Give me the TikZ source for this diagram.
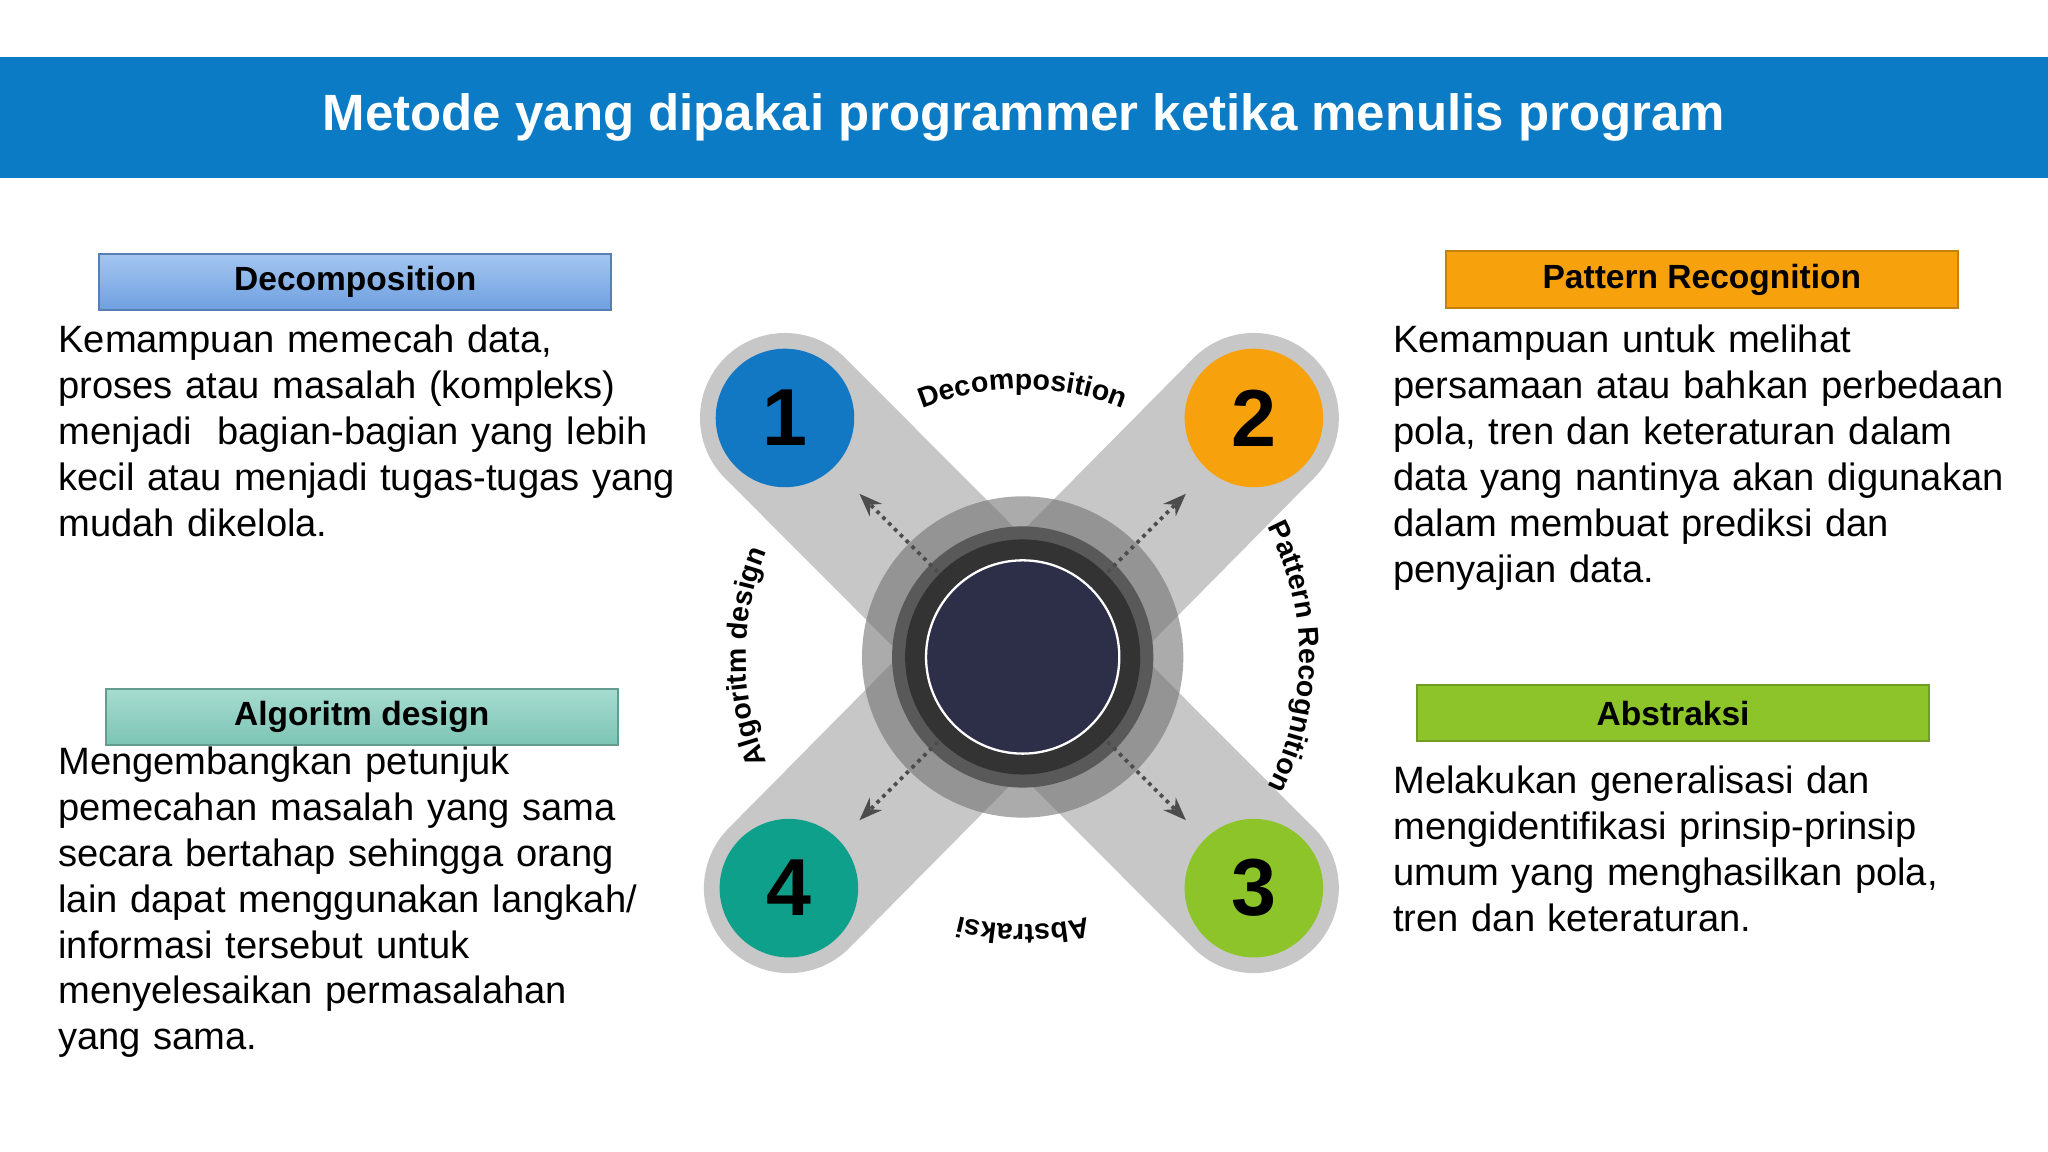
\documentclass[tikz,border=0pt]{standalone}
\usepackage{fontspec}
\setmainfont{Liberation Sans}
\usetikzlibrary{arrows.meta,decorations.text,calc}
\definecolor{hdr}{HTML}{0A7BC4}
\definecolor{c1}{HTML}{1378C4}
\definecolor{c2}{HTML}{F7A10C}
\definecolor{c3}{HTML}{8CC42A}
\definecolor{c4}{HTML}{0FA08C}
\definecolor{navy}{HTML}{2D2E48}
\definecolor{lb1}{HTML}{A4C6F0}
\definecolor{lb2}{HTML}{6E9FE0}
\definecolor{lt1}{HTML}{A6DCD0}
\definecolor{lt2}{HTML}{7CC4B4}
\newcommand{\jl}[1]{\makebox[\linewidth][s]{#1}\\}
\tikzset{
 body/.style={anchor=north west,align=left,inner sep=0pt,font=\fontsize{8.3pt}{10pt}\selectfont},
 lbl/.style={minimum width=3.92cm,minimum height=0.43cm,inner sep=0pt,font=\bfseries\fontsize{7.3pt}{8pt}\selectfont,draw=#1,line width=0.4pt},
 num/.style={circle,minimum size=1.06cm,inner sep=0pt,font=\bfseries\fontsize{17.6pt}{18pt}\selectfont},
 band/.style={line width=37pt,line cap=round,color=black!22},
 darr/.style={densely dotted,thick,black!70,-{Stealth[length=5pt]}},
 arctext/.style={decorate,decoration={text along path,text align=center,text={|\bfseries\fontsize{6.2pt}{7pt}\selectfont|#1}}}
}
\begin{document}
\begin{tikzpicture}[x=0.01cm,y=0.01cm]
\useasboundingbox (0,0) rectangle (1568,-882);
\fill[white] (0,0) rectangle (1568,-882);
\fill[hdr] (0,-44) rectangle (1568,-136);
\node[text=white,font=\bfseries\fontsize{11.1pt}{13pt}\selectfont] (title) at (784,-90) {Metode yang dipakai programmer ketika menulis program};
% labels
\node[lbl=lb2!80!black,top color=lb1,bottom color=lb2] (ld) at (272,-216) {Decomposition};
\node[lbl=c2!80!black,fill=c2] (lp) at (1303,-214) {Pattern Recognition};
\node[lbl=lt2!80!black,top color=lt1,bottom color=lt2] (la) at (277,-549) {Algoritm design};
\node[lbl=c3!80!black,fill=c3] (lb) at (1281,-546) {Abstraksi};
% texts
\node[body,text width=4.7cm] (td) at (44,-248) {\jl{Kemampuan memecah data,}\jl{proses atau masalah (kompleks)}\jl{menjadi \ bagian-bagian yang lebih}\jl{kecil atau menjadi tugas-tugas yang}mudah dikelola.};
\node[body,text width=4.56cm] (ta) at (44,-571) {\jl{Mengembangkan petunjuk}\jl{pemecahan masalah yang sama}\jl{secara bertahap sehingga orang}\jl{lain dapat menggunakan langkah/}\jl{informasi tersebut untuk}\jl{menyelesaikan permasalahan}yang sama.};
\node[body,text width=4.65cm] (tp) at (1066,-248) {\jl{Kemampuan untuk melihat}\jl{persamaan atau bahkan perbedaan}\jl{pola, tren dan keteraturan dalam}\jl{data yang nantinya akan digunakan}\jl{dalam membuat prediksi dan}penyajian data.};
\node[body,text width=4.54cm] (tb) at (1066,-586) {\jl{Melakukan generalisasi dan}\jl{mengidentifikasi prinsip-prinsip}\jl{umum yang menghasilkan pola,}tren dan keteraturan.};
% bands
\coordinate (p1) at (601,-320);
\coordinate (p2) at (960,-320);
\coordinate (p3) at (960,-680);
\coordinate (p4) at (604,-680);
\coordinate (c) at (783,-503);
\draw[band] (p1) -- (p3);
\draw[band] (p2) -- (p4);
% center
\fill[black!55,opacity=0.6] (c) circle[radius=123];
\fill[black!65] (c) circle[radius=100];
\fill[black!80] (c) circle[radius=90];
\fill[navy] (c) circle[radius=75];
\draw[white,line width=0.5pt] (c) circle[radius=74];
% arrows
\coordinate (a1s) at (718,-438); \coordinate (a1e) at (658,-378);
\coordinate (a2s) at (848,-438); \coordinate (a2e) at (908,-378);
\coordinate (a3s) at (848,-568); \coordinate (a3e) at (908,-628);
\coordinate (a4s) at (718,-568); \coordinate (a4e) at (658,-628);
\draw[darr] (a1s) -- (a1e);
\draw[darr] (a2s) -- (a2e);
\draw[darr] (a3s) -- (a3e);
\draw[darr] (a4s) -- (a4e);
% number circles
\node[num,fill=c1] (n1) at (p1) {1};
\node[num,fill=c2] (n2) at (p2) {2};
\node[num,fill=c3] (n3) at (p3) {3};
\node[num,fill=c4] (n4) at (p4) {4};
% arc labels
\path[arctext={Decomposition}] ($(c)+(130:205)$) arc[start angle=130,end angle=50,radius=205];
\path[arctext={Pattern Recognition}] ($(c)+(45:212)$) arc[start angle=45,end angle=-45,radius=212];
\path[arctext={Abstraksi}] ($(c)+(-60:205)$) arc[start angle=-60,end angle=-120,radius=205];
\path[arctext={Algoritm design}] ($(c)+(-140:212)$) arc[start angle=-140,end angle=-220,radius=212];
\end{tikzpicture}
\end{document}
